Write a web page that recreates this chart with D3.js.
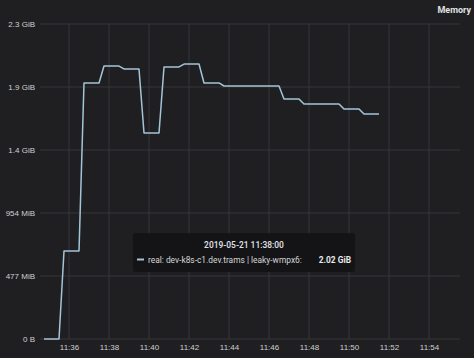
<!DOCTYPE html>
<html>
<head>
<meta charset="utf-8">
<script src="https://cdn.jsdelivr.net/npm/d3@7/dist/d3.min.js"></script>
<style>
  html, body { margin: 0; padding: 0; background: #1f1f22; }
  svg { display: block; font-family: Roboto, "Noto Sans", sans-serif; }
</style>
</head>
<body>
<svg id="chart" width="474" height="358"></svg>
<script>
// ---- data ----
const seriesName = "real: dev-k8s-c1.dev.trams | leaky-wmpx6:";
const sampleTimes = ["11:34:45","11:35:30","11:35:45","11:36:30","11:36:45","11:37:30","11:37:45",
  "11:38:30","11:38:45","11:39:30","11:39:45","11:40:30","11:40:45","11:41:30","11:41:45",
  "11:42:30","11:42:45","11:43:30","11:43:45","11:46:30","11:46:45","11:47:30","11:47:45",
  "11:49:30","11:49:45","11:50:30","11:50:45","11:51:30"];
const sampleMiB = [0, 0, 666, 666, 1938, 1938, 2066, 2066, 2044, 2044, 1559, 1559, 2059, 2059, 2081,
  2081, 1938, 1938, 1915, 1915, 1817, 1817, 1779, 1779, 1741, 1741, 1703, 1703];
const yTickBytes = [0, 5e8, 1e9, 1.5e9, 2e9, 2.5e9];
const yTickLabels = ["0 B", "477 MiB", "954 MiB", "1.4 GiB", "1.9 GiB", "2.3 GiB"];
const xTickTimes = ["11:36","11:38","11:40","11:42","11:44","11:46","11:48","11:50","11:52","11:54"];
const xDomainTimes = ["11:34:33", "11:55:33"];
const tooltipTime = "2019-05-21 11:38:00";
const tooltipValue = "2.02 GiB";
const panelTitle = "Memory";

// ---- helpers ----
const parse = s => {
  const p = s.split(":").map(Number);
  return new Date(2019, 4, 21, p[0], p[1], p[2] || 0);
};
const data = sampleTimes.map((t, i) => ({ t: parse(t), v: sampleMiB[i] * 1024 * 1024 }));

const svg = d3.select("#chart");
const plotLeft = 40, plotRight = 460, plotTop = 24, plotBottom = 339;

const x = d3.scaleTime().domain(xDomainTimes.map(parse)).range([plotLeft, plotRight]);
const y = d3.scaleLinear().domain([0, 2.5e9]).range([plotBottom, plotTop]);

const gridColor = "#36363b";
const textColor = "#cfd0d1";

// vertical grid
svg.append("g")
  .selectAll("line").data(xTickTimes).join("line")
  .attr("x1", d => x(parse(d))).attr("x2", d => x(parse(d)))
  .attr("y1", plotTop).attr("y2", plotBottom)
  .attr("stroke", gridColor).attr("stroke-width", 1);

// horizontal grid
svg.append("g")
  .selectAll("line").data(yTickBytes).join("line")
  .attr("x1", plotLeft).attr("x2", plotRight)
  .attr("y1", d => y(d)).attr("y2", d => y(d))
  .attr("stroke", gridColor).attr("stroke-width", 1);

// y axis
const yAxis = d3.axisLeft(y).tickValues(yTickBytes)
  .tickFormat((d, i) => yTickLabels[i]).tickSize(0).tickPadding(5);
const gy = svg.append("g").attr("transform", `translate(${plotLeft},0)`).call(yAxis);
gy.select(".domain").remove();
gy.selectAll("text").attr("fill", textColor).style("font-size", "8px");

// x axis
const xAxis = d3.axisBottom(x).tickValues(xTickTimes.map(parse))
  .tickFormat(d3.timeFormat("%H:%M")).tickSize(0).tickPadding(5);
const gx = svg.append("g").attr("transform", `translate(0,${plotBottom})`).call(xAxis);
gx.select(".domain").remove();
gx.selectAll("text").attr("fill", textColor).style("font-size", "8px");

// line
const line = d3.line().x(d => x(d.t)).y(d => y(d.v));
svg.append("path").datum(data)
  .attr("d", line)
  .attr("fill", "none")
  .attr("stroke", "#a3c5d9")
  .attr("stroke-width", 1.5)
  .attr("stroke-linejoin", "round");

// title
svg.append("text").attr("x", 471).attr("y", 13)
  .attr("text-anchor", "end").attr("fill", "#e0e1e2")
  .style("font-size", "9px").style("font-weight", "bold")
  .text(panelTitle);

// tooltip
const tip = svg.append("g");
tip.append("rect").attr("x", 133).attr("y", 233).attr("width", 222).attr("height", 39)
  .attr("rx", 3).attr("fill", "#141416");
tip.append("text").attr("x", 244).attr("y", 248).attr("text-anchor", "middle")
  .attr("fill", "#dedfe0").style("font-size", "8.4px").style("font-weight", "600")
  .text(tooltipTime);
tip.append("line").attr("x1", 137).attr("x2", 144).attr("y1", 259.5).attr("y2", 259.5)
  .attr("stroke", "#a3c5d9").attr("stroke-width", 2);
tip.append("text").attr("x", 148).attr("y", 262.5)
  .attr("fill", "#d6d7d8").style("font-size", "8.4px")
  .text(seriesName);
tip.append("text").attr("x", 351).attr("y", 262.5).attr("text-anchor", "end")
  .attr("fill", "#e8e9ea").style("font-size", "8.4px").style("font-weight", "bold")
  .text(tooltipValue);
</script>
</body>
</html>
